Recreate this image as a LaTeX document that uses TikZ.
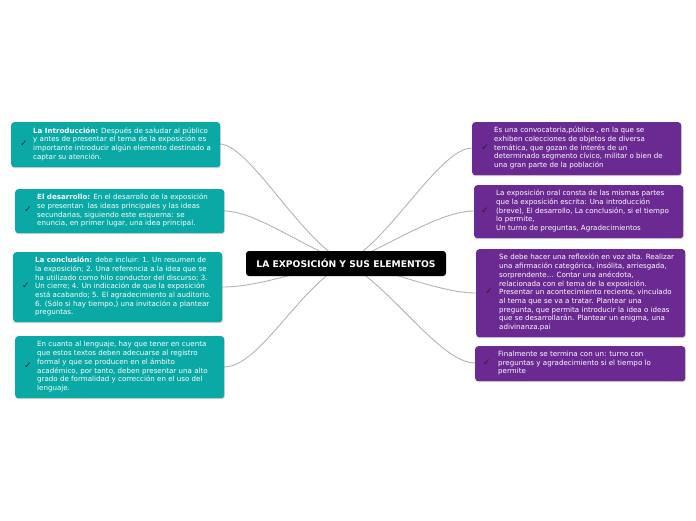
\documentclass[tikz,border=0pt]{standalone}
\usepackage{fontspec}
\setmainfont{DejaVu Sans}
\usepackage{array}
\usetikzlibrary{shadows}
\definecolor{teal1}{HTML}{0AA9A5}
\definecolor{purp}{HTML}{6B2A92}
\definecolor{conn}{HTML}{B4B4B4}
\newcommand{\ck}{\textcolor{black!85}{\fontsize{9}{9}\selectfont ✓}}
\newcommand{\boxtext}[2]{\begin{tabular}{@{}m{#1}@{}>{\raggedright\arraybackslash}m{200pt}@{}}\ck & #2\end{tabular}}
\newcommand{\nl}{\newline}
\tikzset{
 box/.style={rounded corners=3pt, inner sep=0pt, anchor=north west, drop shadow={opacity=0.35,shadow xshift=0.6pt,shadow yshift=-1pt}},
 lbox/.style={box, fill=teal1},
 rbox/.style={box, fill=purp},
 txt/.style={anchor=west, text=white, font=\fontsize{7.1}{8.7}\selectfont, inner sep=0pt},
 con/.style={draw=conn, line width=0.9pt},
}
\begin{document}
\begin{tikzpicture}[x=1pt,y=-1pt]
\useasboundingbox[fill=white] (0,0) rectangle (696,520);
% connectors
\coordinate (c) at (346,263);
\draw[con] (c) .. controls (300,240) and (250,145) .. (220,144);
\draw[con] (c) .. controls (300,245) and (255,211) .. (224,211);
\draw[con] (c) .. controls (300,270) and (260,287) .. (222,287);
\draw[con] (c) .. controls (300,285) and (260,367) .. (224,367);
\draw[con] (c) .. controls (390,240) and (440,148) .. (472,148);
\draw[con] (c) .. controls (390,245) and (440,211) .. (474,211);
\draw[con] (c) .. controls (390,270) and (440,293) .. (476,293);
\draw[con] (c) .. controls (390,285) and (440,363) .. (475,363);
% left boxes
\node[lbox, minimum width=209pt, minimum height=45pt] (L1) at (11,122) {};
\node[txt] (L1t) at (20,144.5) {\boxtext{13pt}{\textbf{La Introducción:} Después de saludar al público\nl y antes de presentar el tema de la exposición es\nl importante introducir algún elemento destinado a\nl captar su atención.}};
\node[lbox, minimum width=209pt, minimum height=44pt] (L2) at (15,189) {};
\node[txt] (L2t) at (24,211) {\boxtext{13pt}{\textbf{El desarrollo:} En el desarrollo de la exposición\nl se presentan\ \ las ideas principales y las ideas\nl secundarias, siguiendo este esquema: se\nl enuncia, en primer lugar, una idea principal.}};
\node[lbox, minimum width=209pt, minimum height=70pt] (L3) at (13,252) {};
\node[txt] (L3t) at (22,287) {\boxtext{13pt}{\textbf{La conclusión:} debe incluir: 1. Un resumen de\nl la exposición; 2. Una referencia a la idea que se\nl ha utilizado como hilo conductor del discurso; 3.\nl Un cierre; 4. Un indicación de que la exposición\nl está acabando; 5. El agradecimiento al auditorio.\nl 6. (Sólo si hay tiempo,) una invitación a plantear\nl preguntas.}};
\node[lbox, minimum width=209pt, minimum height=62pt] (L4) at (15,336) {};
\node[txt] (L4t) at (24,367) {\boxtext{13pt}{En cuanto al lenguaje, hay que tener en cuenta\nl que estos textos deben adecuarse al registro\nl formal y que se producen en el ámbito\nl académico, por tanto, deben presentar una alto\nl grado de formalidad y corrección en el uso del\nl lenguaje.}};
% right boxes
\node[rbox, minimum width=209pt, minimum height=53pt] (R1) at (472,122) {};
\node[txt] (R1t) at (481,148.5) {\boxtext{13pt}{Es una convocatoria,pública , en la que se\nl exhiben colecciones de objetos de diversa\nl temática, que gozan de interés de un\nl determinado segmento cívico, militar o bien de\nl una gran parte de la población}};
\node[rbox, minimum width=209pt, minimum height=53pt] (R2) at (474,185) {};
\node[txt] (R2t) at (481,211.5) {\boxtext{15pt}{La exposición oral consta de las mismas partes\nl que la exposición escrita: Una introducción\nl (breve), El desarrollo, La conclusión, si el tiempo\nl lo permite,\nl Un turno de preguntas, Agradecimientos}};
\node[rbox, minimum width=209pt, minimum height=88pt] (R3) at (476,249) {};
\node[txt] (R3t) at (485,293) {\boxtext{14pt}{Se debe hacer una reflexión en voz alta. Realizar\nl una afirmación categórica, insólita, arriesgada,\nl sorprendente... Contar una anécdota,\nl relacionada con el tema de la exposición.\nl Presentar un acontecimiento reciente, vinculado\nl al tema que se va a tratar. Plantear una\nl pregunta, que permita introducir la idea o ideas\nl que se desarrollarán. Plantear un enigma, una\nl adivinanza.pai}};
\node[rbox, minimum width=210pt, minimum height=35pt] (R4) at (475,346) {};
\node[txt] (R4t) at (483,363.5) {\boxtext{15pt}{Finalmente se termina con un: turno con\nl preguntas y agradecimiento si el tiempo lo\nl permite}};
% center
\node[fill=black, rounded corners=3pt, text=white, font=\fontsize{9.2}{10}\selectfont\bfseries, minimum width=200pt, minimum height=25pt, inner sep=0pt] (C) at (346,263.5) {LA EXPOSICIÓN Y SUS ELEMENTOS};
\end{tikzpicture}
\end{document}
